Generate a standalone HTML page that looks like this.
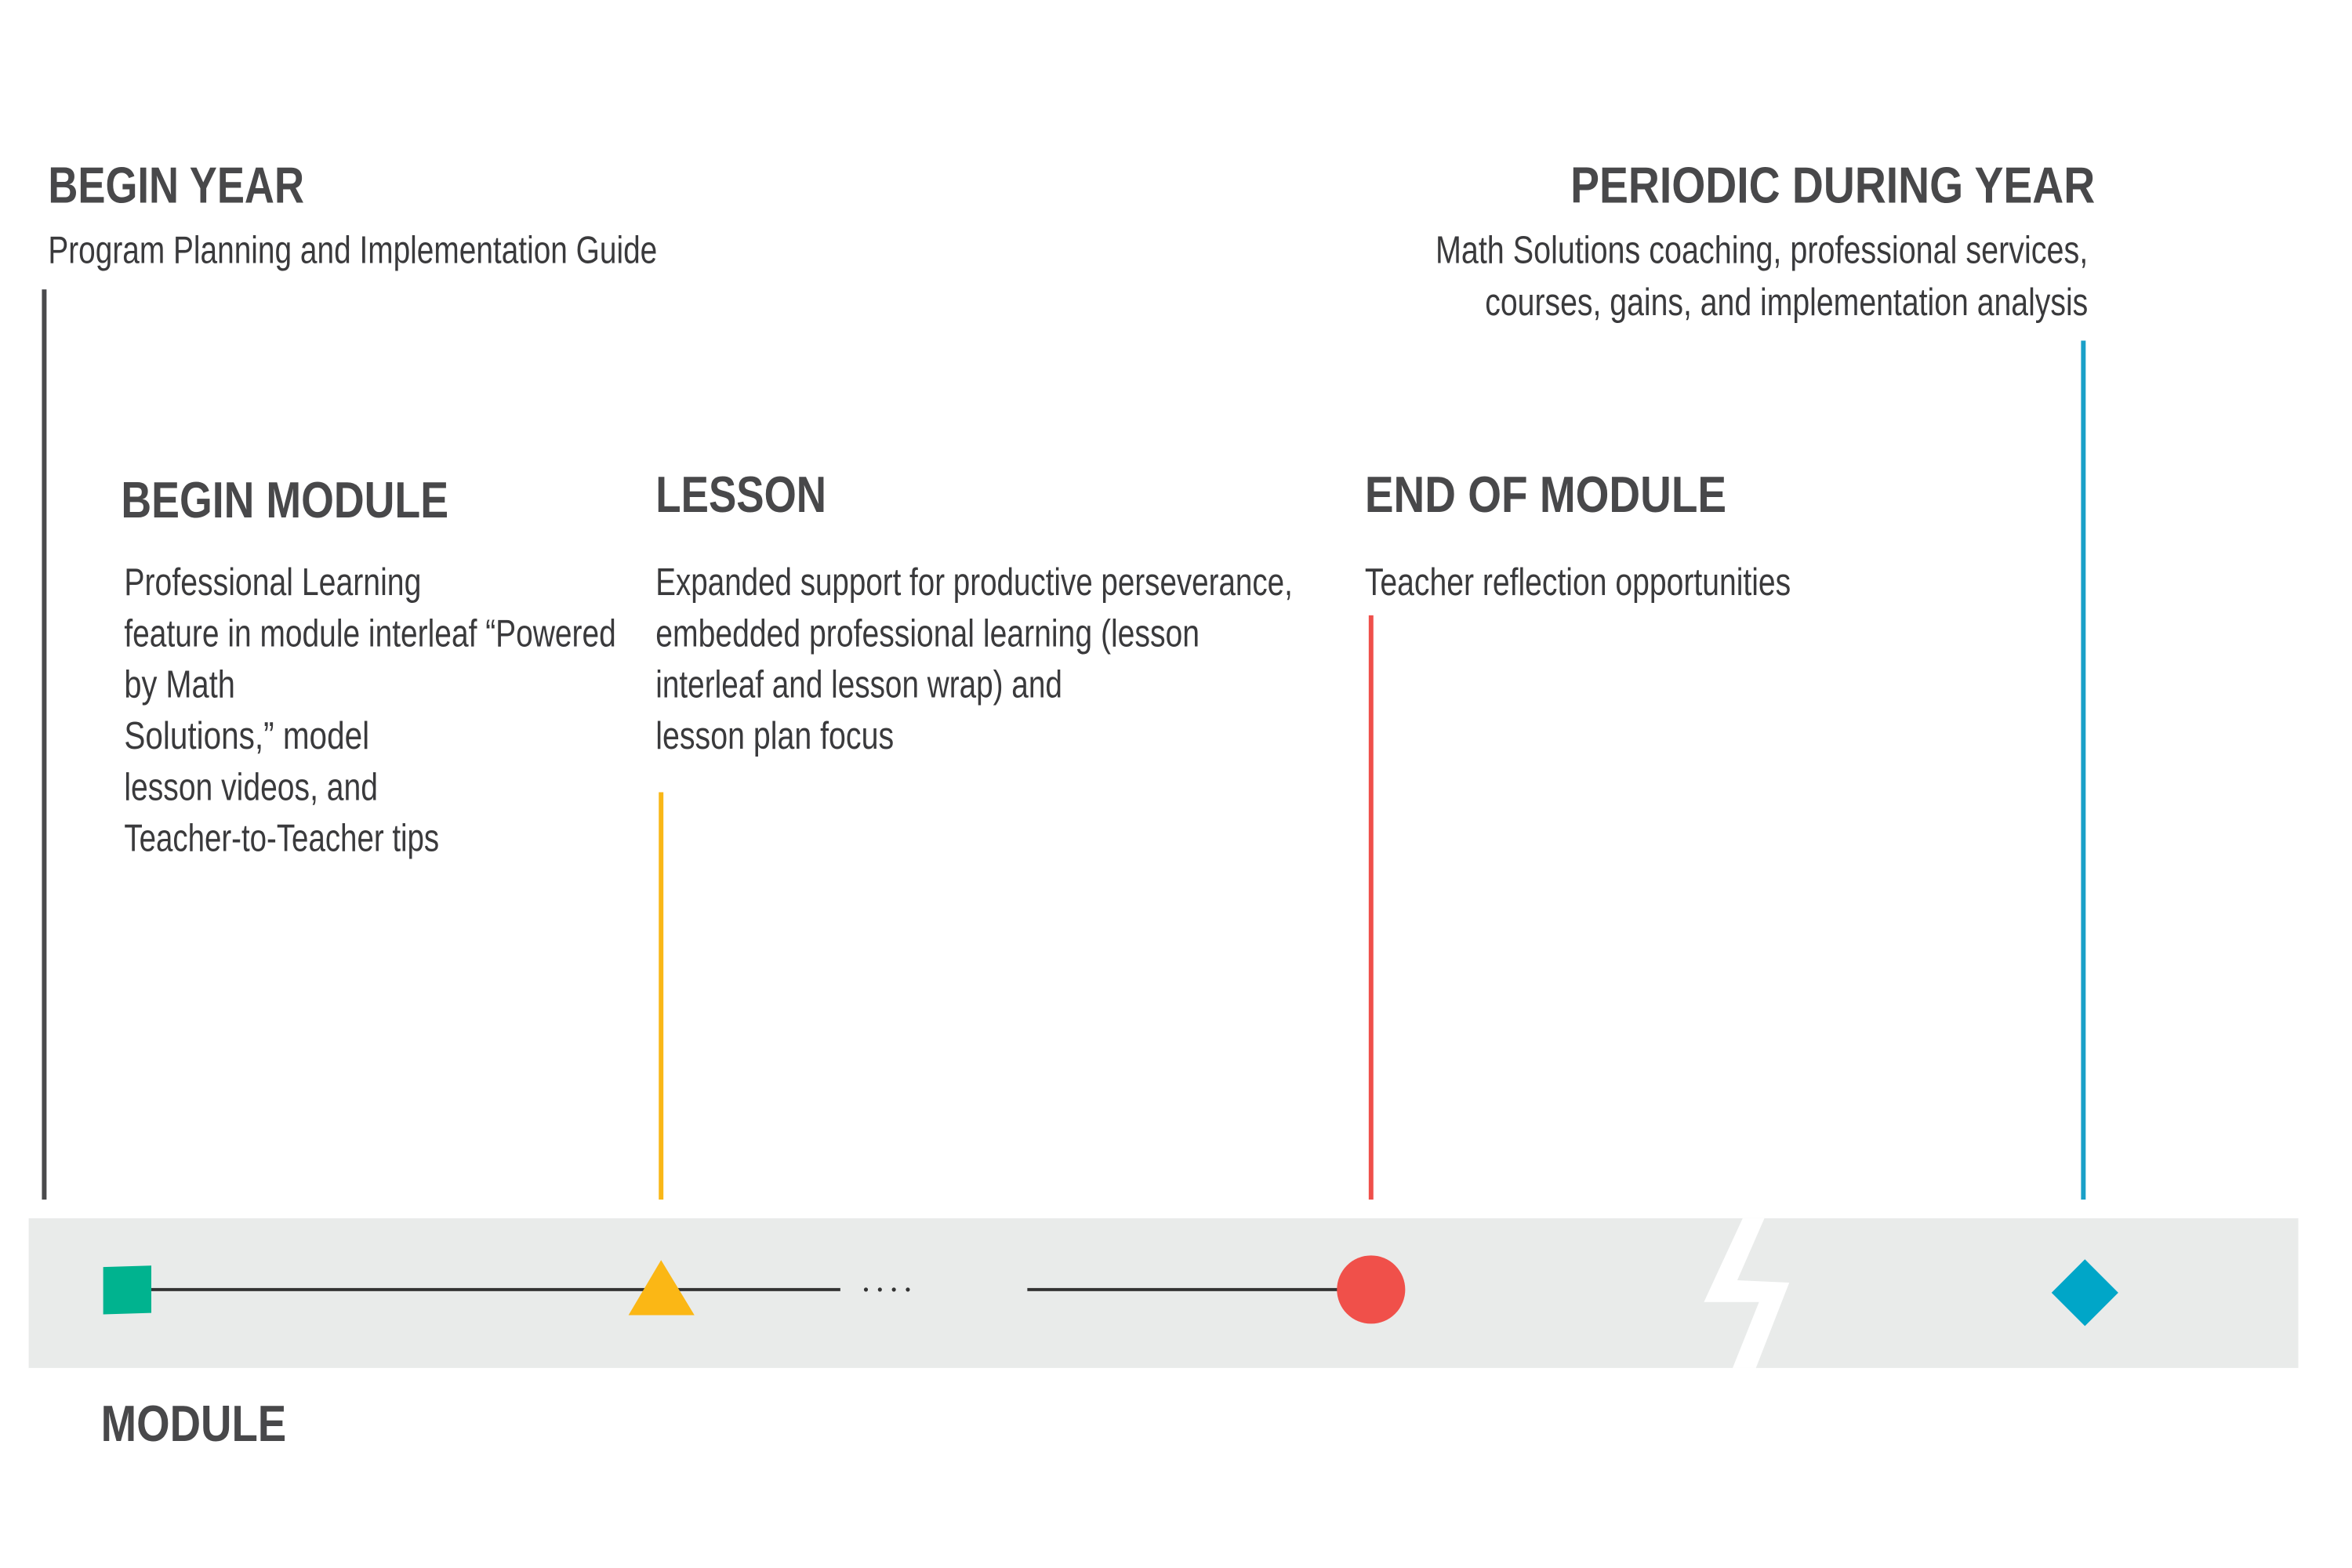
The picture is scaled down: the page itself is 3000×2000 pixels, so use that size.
<!DOCTYPE html>
<html><head><meta charset="utf-8"><style>
html,body{margin:0;padding:0;background:#fff;}
svg{display:block;}
.h{font-family:"Liberation Sans Narrow","Liberation Sans",sans-serif;font-weight:bold;font-size:66px;fill:#48484a;}
.b{font-family:"Liberation Sans Narrow","Liberation Sans",sans-serif;font-size:50px;fill:#3a3a3c;}
</style></head><body>
<svg width="3000" height="2000" viewBox="0 0 3000 2000" xmlns="http://www.w3.org/2000/svg">
<rect width="3000" height="2000" fill="#fff"/>
<g transform="scale(0.9897)">
<rect x="54" y="373" width="6" height="1173" fill="#4a4a4c"/>
<rect x="849" y="1021" width="6" height="525" fill="#f9b717"/>
<rect x="1764" y="793" width="6" height="753" fill="#ef4f4a"/>
<rect x="2682" y="439" width="6" height="1107" fill="#1aa0c8"/>
<rect x="37" y="1570" width="2925" height="193" fill="#e9ebea"/>
<polygon points="2246,1570 2274,1570 2239,1650 2306,1653 2263,1763 2233,1763 2267,1678 2196,1678" fill="#fff"/>
<rect x="195" y="1660" width="888" height="4" fill="#333"/>
<rect x="1324" y="1660" width="402" height="4" fill="#333"/>
<circle cx="1116" cy="1662" r="2.6" fill="#333"/><circle cx="1134" cy="1662" r="2.6" fill="#333"/>
<circle cx="1152" cy="1662" r="2.6" fill="#333"/><circle cx="1170" cy="1662" r="2.6" fill="#333"/>
<polygon points="133,1633 195,1631 195,1692 133,1694" fill="#00b38f"/>
<polygon points="852,1624 895,1695 810,1695" fill="#fbb715"/>
<circle cx="1767" cy="1662" r="44" fill="#f0504a"/>
<polygon points="2687,1623 2730,1666 2687,1709 2644,1666" fill="#00a6c8"/>
<text class="h" x="62" y="261" textLength="330" lengthAdjust="spacingAndGlyphs">BEGIN YEAR</text>
<text class="h" x="2024" y="261" textLength="676" lengthAdjust="spacingAndGlyphs">PERIODIC DURING YEAR</text>
<text class="h" x="156" y="667" textLength="422" lengthAdjust="spacingAndGlyphs">BEGIN MODULE</text>
<text class="h" x="845" y="660" textLength="220" lengthAdjust="spacingAndGlyphs">LESSON</text>
<text class="h" x="1759" y="660" textLength="466" lengthAdjust="spacingAndGlyphs">END OF MODULE</text>
<text class="h" x="130" y="1857" textLength="239" lengthAdjust="spacingAndGlyphs">MODULE</text>
<text class="b" x="62" y="339" textLength="785" lengthAdjust="spacingAndGlyphs">Program Planning and Implementation Guide</text>
<text class="b" x="1850" y="339" textLength="841" lengthAdjust="spacingAndGlyphs">Math Solutions coaching, professional services,</text>
<text class="b" x="1914" y="406" textLength="777" lengthAdjust="spacingAndGlyphs">courses, gains, and implementation analysis</text>
<text class="b" x="160" y="767" textLength="383" lengthAdjust="spacingAndGlyphs">Professional Learning</text>
<text class="b" x="160" y="833" textLength="634" lengthAdjust="spacingAndGlyphs">feature in module interleaf “Powered</text>
<text class="b" x="160" y="899" textLength="143" lengthAdjust="spacingAndGlyphs">by Math</text>
<text class="b" x="160" y="965" textLength="316" lengthAdjust="spacingAndGlyphs">Solutions,” model</text>
<text class="b" x="160" y="1031" textLength="327" lengthAdjust="spacingAndGlyphs">lesson videos, and</text>
<text class="b" x="160" y="1097" textLength="406" lengthAdjust="spacingAndGlyphs">Teacher-to-Teacher tips</text>
<text class="b" x="845" y="767" textLength="821" lengthAdjust="spacingAndGlyphs">Expanded support for productive perseverance,</text>
<text class="b" x="845" y="833" textLength="701" lengthAdjust="spacingAndGlyphs">embedded professional learning (lesson</text>
<text class="b" x="845" y="899" textLength="524" lengthAdjust="spacingAndGlyphs">interleaf and lesson wrap) and</text>
<text class="b" x="845" y="965" textLength="307" lengthAdjust="spacingAndGlyphs">lesson plan focus</text>
<text class="b" x="1759" y="767" textLength="549" lengthAdjust="spacingAndGlyphs">Teacher reflection opportunities</text>
</g>
</svg>
</body></html>
